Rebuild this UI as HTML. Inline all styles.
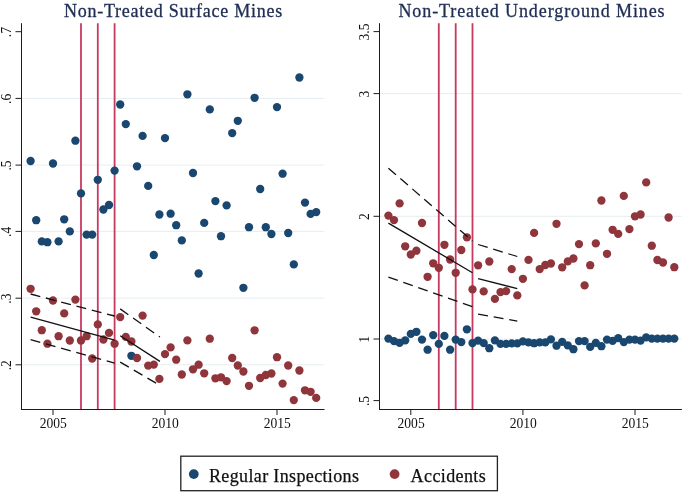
<!DOCTYPE html>
<html lang="en"><head><meta charset="utf-8"><title>Non-Treated Mines</title>
<style>html,body{margin:0;padding:0;background:#fff}svg{display:block}text{font-family:"Liberation Serif","Times New Roman",serif}</style>
</head><body>
<svg width="685" height="492" viewBox="0 0 685 492">
<rect width="685" height="492" fill="#fff"/>
<line x1="21.5" x2="324.5" y1="98.4" y2="98.4" stroke="#e6eef1" stroke-width="1"/>
<line x1="21.5" x2="324.5" y1="165.1" y2="165.1" stroke="#e6eef1" stroke-width="1"/>
<line x1="21.5" x2="324.5" y1="231.4" y2="231.4" stroke="#e6eef1" stroke-width="1"/>
<line x1="21.5" x2="324.5" y1="298.2" y2="298.2" stroke="#e6eef1" stroke-width="1"/>
<line x1="21.5" x2="324.5" y1="364.8" y2="364.8" stroke="#e6eef1" stroke-width="1"/>
<line x1="81.0" x2="81.0" y1="23.2" y2="409.5" stroke="#c73a60" stroke-width="1.8"/>
<line x1="97.8" x2="97.8" y1="23.2" y2="409.5" stroke="#c73a60" stroke-width="1.8"/>
<line x1="114.6" x2="114.6" y1="23.2" y2="409.5" stroke="#c73a60" stroke-width="1.8"/>
<circle cx="30.6" cy="161.0" r="4.15" fill="#1a476f"/>
<circle cx="36.2" cy="220.2" r="4.15" fill="#1a476f"/>
<circle cx="41.8" cy="241.4" r="4.15" fill="#1a476f"/>
<circle cx="47.4" cy="242.2" r="4.15" fill="#1a476f"/>
<circle cx="53.0" cy="163.5" r="4.15" fill="#1a476f"/>
<circle cx="58.6" cy="241.4" r="4.15" fill="#1a476f"/>
<circle cx="64.2" cy="219.3" r="4.15" fill="#1a476f"/>
<circle cx="69.8" cy="231.4" r="4.15" fill="#1a476f"/>
<circle cx="75.4" cy="140.7" r="4.15" fill="#1a476f"/>
<circle cx="81.0" cy="193.4" r="4.15" fill="#1a476f"/>
<circle cx="86.6" cy="234.6" r="4.15" fill="#1a476f"/>
<circle cx="92.2" cy="234.6" r="4.15" fill="#1a476f"/>
<circle cx="97.8" cy="179.8" r="4.15" fill="#1a476f"/>
<circle cx="103.4" cy="209.5" r="4.15" fill="#1a476f"/>
<circle cx="109.0" cy="205.0" r="4.15" fill="#1a476f"/>
<circle cx="114.6" cy="170.6" r="4.15" fill="#1a476f"/>
<circle cx="120.2" cy="104.5" r="4.15" fill="#1a476f"/>
<circle cx="125.8" cy="124.1" r="4.15" fill="#1a476f"/>
<circle cx="131.4" cy="355.8" r="4.15" fill="#1a476f"/>
<circle cx="137.0" cy="166.3" r="4.15" fill="#1a476f"/>
<circle cx="142.6" cy="135.9" r="4.15" fill="#1a476f"/>
<circle cx="148.2" cy="185.9" r="4.15" fill="#1a476f"/>
<circle cx="153.8" cy="255.0" r="4.15" fill="#1a476f"/>
<circle cx="159.4" cy="214.5" r="4.15" fill="#1a476f"/>
<circle cx="165.0" cy="138.1" r="4.15" fill="#1a476f"/>
<circle cx="170.6" cy="213.7" r="4.15" fill="#1a476f"/>
<circle cx="176.2" cy="225.2" r="4.15" fill="#1a476f"/>
<circle cx="181.8" cy="240.4" r="4.15" fill="#1a476f"/>
<circle cx="187.4" cy="94.3" r="4.15" fill="#1a476f"/>
<circle cx="193.0" cy="173.0" r="4.15" fill="#1a476f"/>
<circle cx="198.6" cy="273.5" r="4.15" fill="#1a476f"/>
<circle cx="204.2" cy="222.9" r="4.15" fill="#1a476f"/>
<circle cx="209.8" cy="109.4" r="4.15" fill="#1a476f"/>
<circle cx="215.4" cy="201.1" r="4.15" fill="#1a476f"/>
<circle cx="221.0" cy="236.2" r="4.15" fill="#1a476f"/>
<circle cx="226.6" cy="205.4" r="4.15" fill="#1a476f"/>
<circle cx="232.2" cy="133.1" r="4.15" fill="#1a476f"/>
<circle cx="237.8" cy="120.8" r="4.15" fill="#1a476f"/>
<circle cx="243.4" cy="287.8" r="4.15" fill="#1a476f"/>
<circle cx="249.0" cy="227.2" r="4.15" fill="#1a476f"/>
<circle cx="254.6" cy="97.8" r="4.15" fill="#1a476f"/>
<circle cx="260.2" cy="189.0" r="4.15" fill="#1a476f"/>
<circle cx="265.8" cy="227.2" r="4.15" fill="#1a476f"/>
<circle cx="271.4" cy="234.0" r="4.15" fill="#1a476f"/>
<circle cx="277.0" cy="107.1" r="4.15" fill="#1a476f"/>
<circle cx="282.6" cy="173.7" r="4.15" fill="#1a476f"/>
<circle cx="288.2" cy="233.0" r="4.15" fill="#1a476f"/>
<circle cx="293.8" cy="264.4" r="4.15" fill="#1a476f"/>
<circle cx="299.4" cy="77.5" r="4.15" fill="#1a476f"/>
<circle cx="305.0" cy="202.6" r="4.15" fill="#1a476f"/>
<circle cx="310.6" cy="213.9" r="4.15" fill="#1a476f"/>
<circle cx="316.2" cy="212.1" r="4.15" fill="#1a476f"/>
<circle cx="30.6" cy="288.8" r="4.15" fill="#90353b"/>
<circle cx="36.2" cy="311.3" r="4.15" fill="#90353b"/>
<circle cx="41.8" cy="330.2" r="4.15" fill="#90353b"/>
<circle cx="47.4" cy="343.7" r="4.15" fill="#90353b"/>
<circle cx="53.0" cy="300.5" r="4.15" fill="#90353b"/>
<circle cx="58.6" cy="336.2" r="4.15" fill="#90353b"/>
<circle cx="64.2" cy="313.4" r="4.15" fill="#90353b"/>
<circle cx="69.8" cy="340.5" r="4.15" fill="#90353b"/>
<circle cx="75.4" cy="299.6" r="4.15" fill="#90353b"/>
<circle cx="81.0" cy="340.5" r="4.15" fill="#90353b"/>
<circle cx="86.6" cy="336.2" r="4.15" fill="#90353b"/>
<circle cx="92.2" cy="358.5" r="4.15" fill="#90353b"/>
<circle cx="97.8" cy="324.4" r="4.15" fill="#90353b"/>
<circle cx="103.4" cy="339.5" r="4.15" fill="#90353b"/>
<circle cx="109.0" cy="332.9" r="4.15" fill="#90353b"/>
<circle cx="114.6" cy="343.7" r="4.15" fill="#90353b"/>
<circle cx="120.2" cy="317.1" r="4.15" fill="#90353b"/>
<circle cx="125.8" cy="336.9" r="4.15" fill="#90353b"/>
<circle cx="131.4" cy="341.5" r="4.15" fill="#90353b"/>
<circle cx="137.0" cy="358.0" r="4.15" fill="#90353b"/>
<circle cx="142.6" cy="315.6" r="4.15" fill="#90353b"/>
<circle cx="148.2" cy="365.6" r="4.15" fill="#90353b"/>
<circle cx="153.8" cy="364.6" r="4.15" fill="#90353b"/>
<circle cx="159.4" cy="378.9" r="4.15" fill="#90353b"/>
<circle cx="165.0" cy="354.1" r="4.15" fill="#90353b"/>
<circle cx="170.6" cy="347.4" r="4.15" fill="#90353b"/>
<circle cx="176.2" cy="359.7" r="4.15" fill="#90353b"/>
<circle cx="181.8" cy="374.5" r="4.15" fill="#90353b"/>
<circle cx="187.4" cy="340.4" r="4.15" fill="#90353b"/>
<circle cx="193.0" cy="369.3" r="4.15" fill="#90353b"/>
<circle cx="198.6" cy="364.7" r="4.15" fill="#90353b"/>
<circle cx="204.2" cy="373.3" r="4.15" fill="#90353b"/>
<circle cx="209.8" cy="338.7" r="4.15" fill="#90353b"/>
<circle cx="215.4" cy="378.3" r="4.15" fill="#90353b"/>
<circle cx="221.0" cy="377.3" r="4.15" fill="#90353b"/>
<circle cx="226.6" cy="381.1" r="4.15" fill="#90353b"/>
<circle cx="232.2" cy="358.0" r="4.15" fill="#90353b"/>
<circle cx="237.8" cy="365.5" r="4.15" fill="#90353b"/>
<circle cx="243.4" cy="371.5" r="4.15" fill="#90353b"/>
<circle cx="249.0" cy="385.8" r="4.15" fill="#90353b"/>
<circle cx="254.6" cy="330.3" r="4.15" fill="#90353b"/>
<circle cx="260.2" cy="378.0" r="4.15" fill="#90353b"/>
<circle cx="265.8" cy="375.0" r="4.15" fill="#90353b"/>
<circle cx="271.4" cy="373.5" r="4.15" fill="#90353b"/>
<circle cx="277.0" cy="357.2" r="4.15" fill="#90353b"/>
<circle cx="282.6" cy="383.6" r="4.15" fill="#90353b"/>
<circle cx="288.2" cy="365.5" r="4.15" fill="#90353b"/>
<circle cx="293.8" cy="400.1" r="4.15" fill="#90353b"/>
<circle cx="299.4" cy="370.5" r="4.15" fill="#90353b"/>
<circle cx="305.0" cy="390.3" r="4.15" fill="#90353b"/>
<circle cx="310.6" cy="391.8" r="4.15" fill="#90353b"/>
<circle cx="316.2" cy="397.9" r="4.15" fill="#90353b"/>
<line x1="30.6" y1="317.1" x2="114.6" y2="340.2" stroke="#111" stroke-width="1.3"/>
<line x1="120.2" y1="335.7" x2="159.9" y2="361.4" stroke="#111" stroke-width="1.3"/>
<line x1="30.6" y1="294.0" x2="114.6" y2="316.0" stroke="#111" stroke-width="1.3" stroke-dasharray="10 5.8"/>
<line x1="120.2" y1="308.9" x2="159.9" y2="337.0" stroke="#111" stroke-width="1.3" stroke-dasharray="10 5.8"/>
<line x1="30.6" y1="339.7" x2="114.6" y2="363.1" stroke="#111" stroke-width="1.3" stroke-dasharray="10 5.8"/>
<line x1="120.2" y1="362.1" x2="159.9" y2="385.4" stroke="#111" stroke-width="1.3" stroke-dasharray="10 5.8"/>
<line x1="21.5" x2="21.5" y1="23.2" y2="410" stroke="#1c1c1c" stroke-width="1"/>
<line x1="21.0" x2="324.5" y1="409.5" y2="409.5" stroke="#1c1c1c" stroke-width="1"/>
<line x1="15.5" x2="21.5" y1="31.7" y2="31.7" stroke="#1c1c1c" stroke-width="1"/>
<text font-size="14.6" text-anchor="middle" transform="translate(10.5 32.1) rotate(-90) scale(0.93 1)" fill="#111">.7</text>
<line x1="15.5" x2="21.5" y1="98.4" y2="98.4" stroke="#1c1c1c" stroke-width="1"/>
<text font-size="14.6" text-anchor="middle" transform="translate(10.5 98.80000000000001) rotate(-90) scale(0.93 1)" fill="#111">.6</text>
<line x1="15.5" x2="21.5" y1="165.1" y2="165.1" stroke="#1c1c1c" stroke-width="1"/>
<text font-size="14.6" text-anchor="middle" transform="translate(10.5 165.5) rotate(-90) scale(0.93 1)" fill="#111">.5</text>
<line x1="15.5" x2="21.5" y1="231.4" y2="231.4" stroke="#1c1c1c" stroke-width="1"/>
<text font-size="14.6" text-anchor="middle" transform="translate(10.5 231.8) rotate(-90) scale(0.93 1)" fill="#111">.4</text>
<line x1="15.5" x2="21.5" y1="298.2" y2="298.2" stroke="#1c1c1c" stroke-width="1"/>
<text font-size="14.6" text-anchor="middle" transform="translate(10.5 298.59999999999997) rotate(-90) scale(0.93 1)" fill="#111">.3</text>
<line x1="15.5" x2="21.5" y1="364.8" y2="364.8" stroke="#1c1c1c" stroke-width="1"/>
<text font-size="14.6" text-anchor="middle" transform="translate(10.5 365.2) rotate(-90) scale(0.93 1)" fill="#111">.2</text>
<line x1="53.0" x2="53.0" y1="409.5" y2="415" stroke="#1c1c1c" stroke-width="1"/>
<text font-size="14.6" text-anchor="middle" transform="translate(53.3 428.4) scale(0.93 1)" fill="#111">2005</text>
<line x1="165.0" x2="165.0" y1="409.5" y2="415" stroke="#1c1c1c" stroke-width="1"/>
<text font-size="14.6" text-anchor="middle" transform="translate(165.3 428.4) scale(0.93 1)" fill="#111">2010</text>
<line x1="277.0" x2="277.0" y1="409.5" y2="415" stroke="#1c1c1c" stroke-width="1"/>
<text font-size="14.6" text-anchor="middle" transform="translate(277.3 428.4) scale(0.93 1)" fill="#111">2015</text>
<text x="173.5" y="17.3" font-size="18" text-anchor="middle" fill="#1e2d53" stroke="#1e2d53" stroke-width="0.3" letter-spacing="0.75">Non-Treated Surface Mines</text>
<line x1="379.5" x2="681.9" y1="93.6" y2="93.6" stroke="#e6eef1" stroke-width="1"/>
<line x1="379.5" x2="681.9" y1="216.3" y2="216.3" stroke="#e6eef1" stroke-width="1"/>
<line x1="379.5" x2="681.9" y1="339.0" y2="339.0" stroke="#e6eef1" stroke-width="1"/>
<line x1="438.8" x2="438.8" y1="23.2" y2="409.5" stroke="#c73a60" stroke-width="1.8"/>
<line x1="455.7" x2="455.7" y1="23.2" y2="409.5" stroke="#c73a60" stroke-width="1.8"/>
<line x1="472.5" x2="472.5" y1="23.2" y2="409.5" stroke="#c73a60" stroke-width="1.8"/>
<circle cx="388.4" cy="338.6" r="4.15" fill="#1a476f"/>
<circle cx="394.0" cy="341.1" r="4.15" fill="#1a476f"/>
<circle cx="399.6" cy="342.9" r="4.15" fill="#1a476f"/>
<circle cx="405.2" cy="340.4" r="4.15" fill="#1a476f"/>
<circle cx="410.8" cy="333.9" r="4.15" fill="#1a476f"/>
<circle cx="416.4" cy="331.8" r="4.15" fill="#1a476f"/>
<circle cx="422.0" cy="339.6" r="4.15" fill="#1a476f"/>
<circle cx="427.6" cy="349.7" r="4.15" fill="#1a476f"/>
<circle cx="433.2" cy="335.1" r="4.15" fill="#1a476f"/>
<circle cx="438.8" cy="343.9" r="4.15" fill="#1a476f"/>
<circle cx="444.4" cy="335.9" r="4.15" fill="#1a476f"/>
<circle cx="450.1" cy="349.7" r="4.15" fill="#1a476f"/>
<circle cx="455.7" cy="339.6" r="4.15" fill="#1a476f"/>
<circle cx="461.3" cy="342.1" r="4.15" fill="#1a476f"/>
<circle cx="466.9" cy="329.3" r="4.15" fill="#1a476f"/>
<circle cx="472.5" cy="343.1" r="4.15" fill="#1a476f"/>
<circle cx="478.1" cy="340.6" r="4.15" fill="#1a476f"/>
<circle cx="483.7" cy="343.1" r="4.15" fill="#1a476f"/>
<circle cx="489.3" cy="348.2" r="4.15" fill="#1a476f"/>
<circle cx="494.9" cy="340.4" r="4.15" fill="#1a476f"/>
<circle cx="500.5" cy="343.9" r="4.15" fill="#1a476f"/>
<circle cx="506.1" cy="343.9" r="4.15" fill="#1a476f"/>
<circle cx="511.7" cy="343.4" r="4.15" fill="#1a476f"/>
<circle cx="517.3" cy="343.4" r="4.15" fill="#1a476f"/>
<circle cx="522.9" cy="341.4" r="4.15" fill="#1a476f"/>
<circle cx="528.5" cy="342.4" r="4.15" fill="#1a476f"/>
<circle cx="534.1" cy="343.2" r="4.15" fill="#1a476f"/>
<circle cx="539.7" cy="342.4" r="4.15" fill="#1a476f"/>
<circle cx="545.3" cy="342.4" r="4.15" fill="#1a476f"/>
<circle cx="550.9" cy="339.4" r="4.15" fill="#1a476f"/>
<circle cx="556.5" cy="345.7" r="4.15" fill="#1a476f"/>
<circle cx="562.2" cy="341.9" r="4.15" fill="#1a476f"/>
<circle cx="567.8" cy="345.4" r="4.15" fill="#1a476f"/>
<circle cx="573.4" cy="349.2" r="4.15" fill="#1a476f"/>
<circle cx="579.0" cy="341.1" r="4.15" fill="#1a476f"/>
<circle cx="584.6" cy="341.1" r="4.15" fill="#1a476f"/>
<circle cx="590.2" cy="346.9" r="4.15" fill="#1a476f"/>
<circle cx="595.8" cy="342.9" r="4.15" fill="#1a476f"/>
<circle cx="601.4" cy="346.2" r="4.15" fill="#1a476f"/>
<circle cx="607.0" cy="339.6" r="4.15" fill="#1a476f"/>
<circle cx="612.6" cy="340.9" r="4.15" fill="#1a476f"/>
<circle cx="618.2" cy="338.1" r="4.15" fill="#1a476f"/>
<circle cx="623.8" cy="342.1" r="4.15" fill="#1a476f"/>
<circle cx="629.4" cy="339.6" r="4.15" fill="#1a476f"/>
<circle cx="635.0" cy="339.6" r="4.15" fill="#1a476f"/>
<circle cx="640.6" cy="340.6" r="4.15" fill="#1a476f"/>
<circle cx="646.2" cy="337.4" r="4.15" fill="#1a476f"/>
<circle cx="651.8" cy="338.6" r="4.15" fill="#1a476f"/>
<circle cx="657.4" cy="338.6" r="4.15" fill="#1a476f"/>
<circle cx="663.0" cy="338.6" r="4.15" fill="#1a476f"/>
<circle cx="668.6" cy="338.6" r="4.15" fill="#1a476f"/>
<circle cx="674.3" cy="338.6" r="4.15" fill="#1a476f"/>
<circle cx="388.4" cy="215.6" r="4.15" fill="#90353b"/>
<circle cx="394.0" cy="220.1" r="4.15" fill="#90353b"/>
<circle cx="399.6" cy="203.4" r="4.15" fill="#90353b"/>
<circle cx="405.2" cy="246.3" r="4.15" fill="#90353b"/>
<circle cx="410.8" cy="254.5" r="4.15" fill="#90353b"/>
<circle cx="416.4" cy="250.7" r="4.15" fill="#90353b"/>
<circle cx="422.0" cy="223.0" r="4.15" fill="#90353b"/>
<circle cx="427.6" cy="276.8" r="4.15" fill="#90353b"/>
<circle cx="433.2" cy="263.3" r="4.15" fill="#90353b"/>
<circle cx="438.8" cy="267.8" r="4.15" fill="#90353b"/>
<circle cx="444.4" cy="244.8" r="4.15" fill="#90353b"/>
<circle cx="450.1" cy="259.5" r="4.15" fill="#90353b"/>
<circle cx="455.7" cy="272.8" r="4.15" fill="#90353b"/>
<circle cx="461.3" cy="250.0" r="4.15" fill="#90353b"/>
<circle cx="466.9" cy="237.3" r="4.15" fill="#90353b"/>
<circle cx="472.5" cy="289.4" r="4.15" fill="#90353b"/>
<circle cx="478.1" cy="265.3" r="4.15" fill="#90353b"/>
<circle cx="483.7" cy="291.4" r="4.15" fill="#90353b"/>
<circle cx="489.3" cy="261.5" r="4.15" fill="#90353b"/>
<circle cx="494.9" cy="298.9" r="4.15" fill="#90353b"/>
<circle cx="500.5" cy="292.1" r="4.15" fill="#90353b"/>
<circle cx="506.1" cy="291.1" r="4.15" fill="#90353b"/>
<circle cx="511.7" cy="269.1" r="4.15" fill="#90353b"/>
<circle cx="517.3" cy="295.4" r="4.15" fill="#90353b"/>
<circle cx="522.9" cy="278.8" r="4.15" fill="#90353b"/>
<circle cx="528.5" cy="259.9" r="4.15" fill="#90353b"/>
<circle cx="534.1" cy="232.9" r="4.15" fill="#90353b"/>
<circle cx="539.7" cy="269.1" r="4.15" fill="#90353b"/>
<circle cx="545.3" cy="265.0" r="4.15" fill="#90353b"/>
<circle cx="550.9" cy="263.5" r="4.15" fill="#90353b"/>
<circle cx="556.5" cy="223.8" r="4.15" fill="#90353b"/>
<circle cx="562.2" cy="267.3" r="4.15" fill="#90353b"/>
<circle cx="567.8" cy="261.4" r="4.15" fill="#90353b"/>
<circle cx="573.4" cy="258.5" r="4.15" fill="#90353b"/>
<circle cx="579.0" cy="244.1" r="4.15" fill="#90353b"/>
<circle cx="584.6" cy="285.4" r="4.15" fill="#90353b"/>
<circle cx="590.2" cy="265.2" r="4.15" fill="#90353b"/>
<circle cx="595.8" cy="243.4" r="4.15" fill="#90353b"/>
<circle cx="601.4" cy="200.5" r="4.15" fill="#90353b"/>
<circle cx="607.0" cy="253.8" r="4.15" fill="#90353b"/>
<circle cx="612.6" cy="229.8" r="4.15" fill="#90353b"/>
<circle cx="618.2" cy="233.9" r="4.15" fill="#90353b"/>
<circle cx="623.8" cy="195.9" r="4.15" fill="#90353b"/>
<circle cx="629.4" cy="229.1" r="4.15" fill="#90353b"/>
<circle cx="635.0" cy="216.3" r="4.15" fill="#90353b"/>
<circle cx="640.6" cy="214.5" r="4.15" fill="#90353b"/>
<circle cx="646.2" cy="182.4" r="4.15" fill="#90353b"/>
<circle cx="651.8" cy="245.7" r="4.15" fill="#90353b"/>
<circle cx="657.4" cy="260.0" r="4.15" fill="#90353b"/>
<circle cx="663.0" cy="262.5" r="4.15" fill="#90353b"/>
<circle cx="668.6" cy="217.5" r="4.15" fill="#90353b"/>
<circle cx="674.3" cy="267.2" r="4.15" fill="#90353b"/>
<line x1="388.4" y1="223.1" x2="472.5" y2="272.8" stroke="#111" stroke-width="1.3"/>
<line x1="478.1" y1="278.6" x2="517.3" y2="288.6" stroke="#111" stroke-width="1.3"/>
<line x1="388.4" y1="168.2" x2="472.5" y2="241.0" stroke="#111" stroke-width="1.3" stroke-dasharray="10 5.8"/>
<line x1="478.1" y1="244.5" x2="517.3" y2="256.5" stroke="#111" stroke-width="1.3" stroke-dasharray="10 5.8"/>
<line x1="388.4" y1="277.1" x2="472.5" y2="306.7" stroke="#111" stroke-width="1.3" stroke-dasharray="10 5.8"/>
<line x1="478.1" y1="314.2" x2="517.3" y2="321.1" stroke="#111" stroke-width="1.3" stroke-dasharray="10 5.8"/>
<line x1="379.5" x2="379.5" y1="23.2" y2="410" stroke="#1c1c1c" stroke-width="1"/>
<line x1="379.0" x2="681.9" y1="409.5" y2="409.5" stroke="#1c1c1c" stroke-width="1"/>
<line x1="373.5" x2="379.5" y1="31.6" y2="31.6" stroke="#1c1c1c" stroke-width="1"/>
<text font-size="14.6" text-anchor="middle" transform="translate(368.5 32.0) rotate(-90) scale(0.93 1)" fill="#111">3.5</text>
<line x1="373.5" x2="379.5" y1="93.6" y2="93.6" stroke="#1c1c1c" stroke-width="1"/>
<text font-size="14.6" text-anchor="middle" transform="translate(368.5 94.0) rotate(-90) scale(0.93 1)" fill="#111">3</text>
<line x1="373.5" x2="379.5" y1="216.3" y2="216.3" stroke="#1c1c1c" stroke-width="1"/>
<text font-size="14.6" text-anchor="middle" transform="translate(368.5 216.70000000000002) rotate(-90) scale(0.93 1)" fill="#111">2</text>
<line x1="373.5" x2="379.5" y1="339.0" y2="339.0" stroke="#1c1c1c" stroke-width="1"/>
<text font-size="14.6" text-anchor="middle" transform="translate(368.5 339.4) rotate(-90) scale(0.93 1)" fill="#111">1</text>
<line x1="373.5" x2="379.5" y1="400.6" y2="400.6" stroke="#1c1c1c" stroke-width="1"/>
<text font-size="14.6" text-anchor="middle" transform="translate(368.5 401.0) rotate(-90) scale(0.93 1)" fill="#111">.5</text>
<line x1="410.8" x2="410.8" y1="409.5" y2="415" stroke="#1c1c1c" stroke-width="1"/>
<text font-size="14.6" text-anchor="middle" transform="translate(411.1 428.4) scale(0.93 1)" fill="#111">2005</text>
<line x1="522.9" x2="522.9" y1="409.5" y2="415" stroke="#1c1c1c" stroke-width="1"/>
<text font-size="14.6" text-anchor="middle" transform="translate(523.2 428.4) scale(0.93 1)" fill="#111">2010</text>
<line x1="635.0" x2="635.0" y1="409.5" y2="415" stroke="#1c1c1c" stroke-width="1"/>
<text font-size="14.6" text-anchor="middle" transform="translate(635.3 428.4) scale(0.93 1)" fill="#111">2015</text>
<text x="532" y="17.3" font-size="18" text-anchor="middle" fill="#1e2d53" stroke="#1e2d53" stroke-width="0.3" letter-spacing="0.9">Non-Treated Underground Mines</text>
<rect x="180.8" y="456.2" width="316.6" height="34.5" fill="#fff" stroke="#222" stroke-width="1.3"/>
<circle cx="193.8" cy="474.1" r="4.9" fill="#1a476f"/>
<text x="209.0" y="481.7" font-size="18" fill="#111" stroke="#111" stroke-width="0.25" letter-spacing="0.36">Regular Inspections</text>
<circle cx="394.6" cy="474.1" r="4.9" fill="#90353b"/>
<text x="410.6" y="481.7" font-size="18" fill="#111" stroke="#111" stroke-width="0.25" letter-spacing="0.4">Accidents</text>
</svg>
</body></html>
